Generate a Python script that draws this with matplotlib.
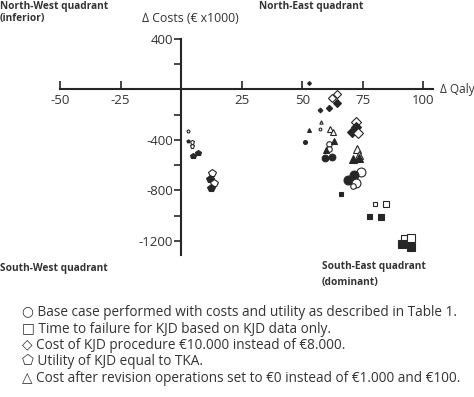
import matplotlib
matplotlib.use("Agg")
import matplotlib.pyplot as plt

plt.rcParams['font.family'] = ['Open Sans', 'DejaVu Sans']

# ------------------- DATA ------------------- #
# base case (circles)
circ_x = [57.3, 51.1, 61.2, 60.9, 59.4, 62.3, 74.3, 71.5, 68.7, 72.2, 70.8]
circ_y = [-310, -418, -432, -469, -540, -532, -651, -677, -717, -738, -764]
circ_size = [2.5, 3.5, 5, 5, 6, 6, 8, 8, 8, 8, 5]
circ_fill = [0, 1, 0, 0, 1, 1, 0, 1, 1, 0, 0]

# time to failure (squares)
sq_x = [66.0, 80.2, 84.8, 77.7, 82.4, 91.9, 94.9, 91.4, 94.9]
sq_y = [-828, -909, -909, -1000, -1012, -1179, -1179, -1226, -1250]
sq_size = [3, 4, 5, 4.5, 5.5, 6, 6.5, 7, 7.5]
sq_fill = [1, 0, 0, 1, 1, 0, 0, 1, 1]

# cost of KJD procedure (diamonds)
dia_x = [52.6, 62.5, 64.2, 64.2, 60.9, 57.3, 72.2, 72.4, 70.5, 72.9]
dia_y = [51, -65, -38, -109, -144, -162, -255, -295, -334, -347]
dia_size = [2.5, 5, 5, 5.5, 4, 3, 7, 7, 7, 7]
dia_fill = [1, 0, 0, 1, 1, 1, 0, 1, 1, 0]

# utility of KJD equal to TKA (pentagons)
pent_x = [3.0, 2.7, 4.3, 4.7, 5.0, 7.0, 12.7, 11.9, 13.6, 12.2]
pent_y = [-326, -408, -413, -451, -524, -503, -664, -711, -741, -778]
pent_size = [3, 3, 4.5, 4.5, 5, 5, 7.5, 7.5, 7, 7]
pent_fill = [0, 1, 0, 0, 1, 1, 0, 1, 0, 1]

# cost after revision set to 0 (triangles)
tri_x = [57.6, 52.6, 61.4, 62.9, 63.3, 59.8, 72.6, 73.6, 71.0, 73.3]
tri_y = [-260, -321, -315, -334, -410, -479, -470, -515, -552, -545]
tri_size = [3, 3.5, 5.5, 5.5, 5.5, 5.5, 7.5, 7.5, 7.5, 7.5]
tri_fill = [0, 1, 0, 0, 1, 1, 0, 0, 1, 1]

x_ticks = [-50, -25, 0, 25, 50, 75, 100]
y_ticks = [400, 200, 0, -200, -400, -600, -800, -1000, -1200]
y_tick_labels = ["400", "", "", "", "-400", "", "-800", "", "-1200"]

legend_lines = [
    "\u25cb Base case performed with costs and utility as described in Table 1.",
    "\u25a1 Time to failure for KJD based on KJD data only.",
    "\u25c7 Cost of KJD procedure \u20ac10.000 instead of \u20ac8.000.",
    "\u2b20 Utility of KJD equal to TKA.",
    "\u25b3 Cost after revision operations set to \u20ac0 instead of \u20ac1.000 and \u20ac100.",
]

DARK = "#262626"
TXT = "#333333"

# ------------------- FIGURE ------------------- #
W, H = 474, 397
fig = plt.figure(figsize=(W / 100, H / 100), dpi=100)
ax = fig.add_axes([60 / W, 1 - 255 / H, 373 / W, (255 - 39) / H])
ax.set_xlim(-50, 104)
ax.set_ylim(-1311, 400)

series = [
    (circ_x, circ_y, circ_size, circ_fill, "o"),
    (sq_x, sq_y, sq_size, sq_fill, "s"),
    (dia_x, dia_y, dia_size, dia_fill, "D"),
    (pent_x, pent_y, pent_size, pent_fill, "p"),
    (tri_x, tri_y, tri_size, tri_fill, "^"),
]
for xs, ys, sizes, fills, mk in series:
    for x, y, s, f in zip(xs, ys, sizes, fills):
        ax.plot(x, y, marker=mk, markersize=s * 0.8, linestyle="none",
                markerfacecolor=DARK if f else "white",
                markeredgecolor=DARK, markeredgewidth=0.8)

# axes through origin
for side in ["top", "right"]:
    ax.spines[side].set_visible(False)
ax.spines["left"].set_position(("data", 0))
ax.spines["bottom"].set_position(("data", 0))
ax.spines["bottom"].set_bounds(-50, 104)
for side in ["left", "bottom"]:
    ax.spines[side].set_linewidth(1.5)
    ax.spines[side].set_color(DARK)

ax.set_xticks(x_ticks)
ax.set_xticklabels([str(t) for t in x_ticks])
ax.set_yticks(y_ticks)
ax.set_yticklabels(y_tick_labels)
ax.tick_params(axis="x", direction="in", length=6, width=1.2, color=DARK,
               labelsize=9.5, labelcolor=TXT, pad=3)
ax.tick_params(axis="y", direction="out", length=5, width=1.2, color=DARK,
               labelsize=9.5, labelcolor=TXT, pad=1)
for lbl in ax.get_xticklabels():
    if lbl.get_text() == "0":
        lbl.set_visible(False)

ax.text(107, 0, "\u0394 Qaly", fontsize=8.5, color=TXT, va="center", ha="left")

# quadrant labels and axis title
fig.text(0 / W, 1 - 7 / H, "North-West quadrant", fontsize=7.3, fontweight="bold",
         color=TXT, va="center", ha="left")
fig.text(0 / W, 1 - 19 / H, "(inferior)", fontsize=7.3, fontweight="bold",
         color=TXT, va="center", ha="left")
fig.text(190 / W, 1 - 18 / H, "\u0394 Costs (\u20ac x1000)", fontsize=8.8,
         color=TXT, va="center", ha="center")
fig.text(311 / W, 1 - 6 / H, "North-East quadrant", fontsize=7.3, fontweight="bold",
         color=TXT, va="center", ha="center")
fig.text(0 / W, 1 - 268 / H, "South-West quadrant", fontsize=7.3, fontweight="bold",
         color=TXT, va="center", ha="left")
fig.text(322 / W, 1 - 267 / H, "South-East quadrant", fontsize=7.3, fontweight="bold",
         color=TXT, va="center", ha="left")
fig.text(322 / W, 1 - 282 / H, "(dominant)", fontsize=7.3, fontweight="bold",
         color=TXT, va="center", ha="left")

# explanation lines
for i, line in enumerate(legend_lines):
    fig.text(22 / W, 1 - (313 + i * 16.3) / H, line, fontsize=9.8, color=TXT,
             va="center", ha="left")

fig.savefig("out.png", dpi=100)
